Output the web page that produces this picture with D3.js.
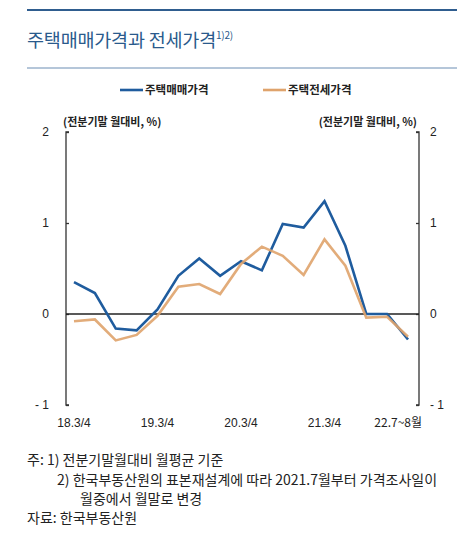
<!DOCTYPE html>
<html>
<head>
<meta charset="utf-8">
<script src="https://cdn.jsdelivr.net/npm/d3@7"></script>
<style>
  body { margin: 0; background: #fff; }
  svg { display: block; }
  text { font-family: "Noto Sans CJK KR", "Liberation Sans", sans-serif; }
</style>
</head>
<body>
<div id="chart"></div>
<script>
// quarters from 18.Q3 to 22.7~8
const periods = ["18.3/4", "18.4/4", "19.1/4", "19.2/4", "19.3/4", "19.4/4",
  "20.1/4", "20.2/4", "20.3/4", "20.4/4", "21.1/4", "21.2/4", "21.3/4",
  "21.4/4", "22.1/4", "22.2/4", "22.7~8월"];
const salePrice = [0.35, 0.23, -0.16, -0.18, 0.05, 0.42, 0.61, 0.42, 0.58,
  0.48, 0.99, 0.95, 1.24, 0.75, 0.0, 0.0, -0.28];
const jeonsePrice = [-0.08, -0.06, -0.29, -0.23, -0.02, 0.30, 0.33, 0.22, 0.55,
  0.74, 0.64, 0.43, 0.82, 0.53, -0.04, -0.03, -0.25];
const yTicks = [-1, 0, 1, 2];
const xLabels = ["18.3/4", "19.3/4", "20.3/4", "21.3/4"];
const seriesNames = ["주택매매가격", "주택전세가격"];
const notes = [
  "주: 1) 전분기말월대비 월평균 기준",
  "2) 한국부동산원의 표본재설계에 따라 2021.7월부터 가격조사일이",
  "월중에서 월말로 변경",
  "자료: 한국부동산원"
];

const W = 474, H = 547;
const blue = "#1f5c9e", orange = "#dfa36c";

const svg = d3.select("#chart").append("svg")
  .attr("width", W).attr("height", H);

// header rules + title
svg.append("line").attr("x1", 27).attr("x2", 457).attr("y1", 10).attr("y2", 10)
  .attr("stroke", "#2f5d8f").attr("stroke-width", 2);
svg.append("line").attr("x1", 27).attr("x2", 457).attr("y1", 68).attr("y2", 68)
  .attr("stroke", "#6b8db3").attr("stroke-width", 1);
const title = svg.append("text").attr("x", 27).attr("y", 47)
  .attr("fill", "#2a5a8c").style("font-size", "18.5px").style("letter-spacing", "-0.2px");
title.append("tspan").text("주택매매가격과 전세가격");
title.append("tspan").attr("dy", -8).style("font-size", "10px").text("1)2)");

// scales
const x = d3.scalePoint().domain(periods).range([74, 408]);
const y = d3.scaleLinear().domain([-1, 2]).range([405, 132]);
const left = 66, right = 419;

// axes
const yLeft = d3.axisRight(y).tickValues(yTicks).tickSize(3).tickFormat("");
const yRight = d3.axisLeft(y).tickValues(yTicks).tickSize(3).tickFormat("");
svg.append("g").attr("transform", `translate(${left},0)`).call(yLeft)
  .call(g => g.select(".domain").attr("d", `M3,${y(2)}H0V${y(-1)}H3`))
  .selectAll("line,path").attr("stroke", "#333").attr("stroke-width", 1.3);
svg.append("g").attr("transform", `translate(${right},0)`).call(yRight)
  .call(g => g.select(".domain").attr("d", `M-3,${y(2)}H0V${y(-1)}H-3`))
  .selectAll("line,path").attr("stroke", "#333").attr("stroke-width", 1.3);

const fmt = d => d < 0 ? "- " + Math.abs(d) : String(d);
svg.append("g").selectAll("text").data(yTicks).join("text")
  .attr("x", 49).attr("y", d => y(d) + 4).attr("text-anchor", "end")
  .style("font-family", "Liberation Sans").style("font-size", "12px").attr("fill", "#222")
  .text(fmt);
svg.append("g").selectAll("text").data(yTicks).join("text")
  .attr("x", 430).attr("y", d => y(d) + 4)
  .style("font-family", "Liberation Sans").style("font-size", "12px").attr("fill", "#222")
  .text(fmt);

// zero line
svg.append("line").attr("x1", left).attr("x2", right)
  .attr("y1", y(0)).attr("y2", y(0)).attr("stroke", "#222").attr("stroke-width", 1.3);

// unit labels
svg.append("text").attr("x", 63).attr("y", 126).style("font-size", "11px")
  .style("font-weight", "bold").attr("fill", "#222").text("(전분기말 월대비, %)");
svg.append("text").attr("x", 417).attr("y", 126).attr("text-anchor", "end")
  .style("font-size", "11px").style("font-weight", "bold").attr("fill", "#222")
  .text("(전분기말 월대비, %)");

// x labels
svg.append("g").selectAll("text").data(xLabels).join("text")
  .attr("x", d => x(d)).attr("y", 427).attr("text-anchor", "middle")
  .style("font-family", "Liberation Sans").style("font-size", "12px").attr("fill", "#222")
  .text(d => d);
svg.append("text").attr("x", 422).attr("y", 427).attr("text-anchor", "end")
  .style("font-size", "12px").attr("fill", "#222").text(periods[periods.length - 1]);

// lines
const line = d3.line().x((d, i) => x(periods[i])).y(d => y(d));
svg.append("path").datum(salePrice).attr("d", line)
  .attr("fill", "none").attr("stroke", blue).attr("stroke-width", 2.6);
svg.append("path").datum(jeonsePrice).attr("d", line)
  .attr("fill", "none").attr("stroke", orange).attr("stroke-width", 2.6)
  .attr("stroke-opacity", 0.9);

// legend
const legend = [{ name: seriesNames[0], color: blue, x: 120 }, { name: seriesNames[1], color: orange, x: 263 }];
const lg = svg.append("g").selectAll("g").data(legend).join("g")
  .attr("transform", d => `translate(${d.x},90)`);
lg.append("line").attr("x1", 0).attr("x2", 23).attr("stroke", d => d.color).attr("stroke-width", 2.6);
lg.append("text").attr("x", 25).attr("y", 4).style("font-size", "11.5px")
  .style("font-weight", "bold").attr("fill", "#222").text(d => d.name);

// notes
const noteX = [27, 57, 80, 27];
const noteY = [465, 485, 504, 523];
svg.append("g").selectAll("text").data(notes).join("text")
  .attr("x", (d, i) => noteX[i]).attr("y", (d, i) => noteY[i])
  .style("font-size", "14px").attr("fill", "#222")
  .text(d => d);
</script>
</body>
</html>
